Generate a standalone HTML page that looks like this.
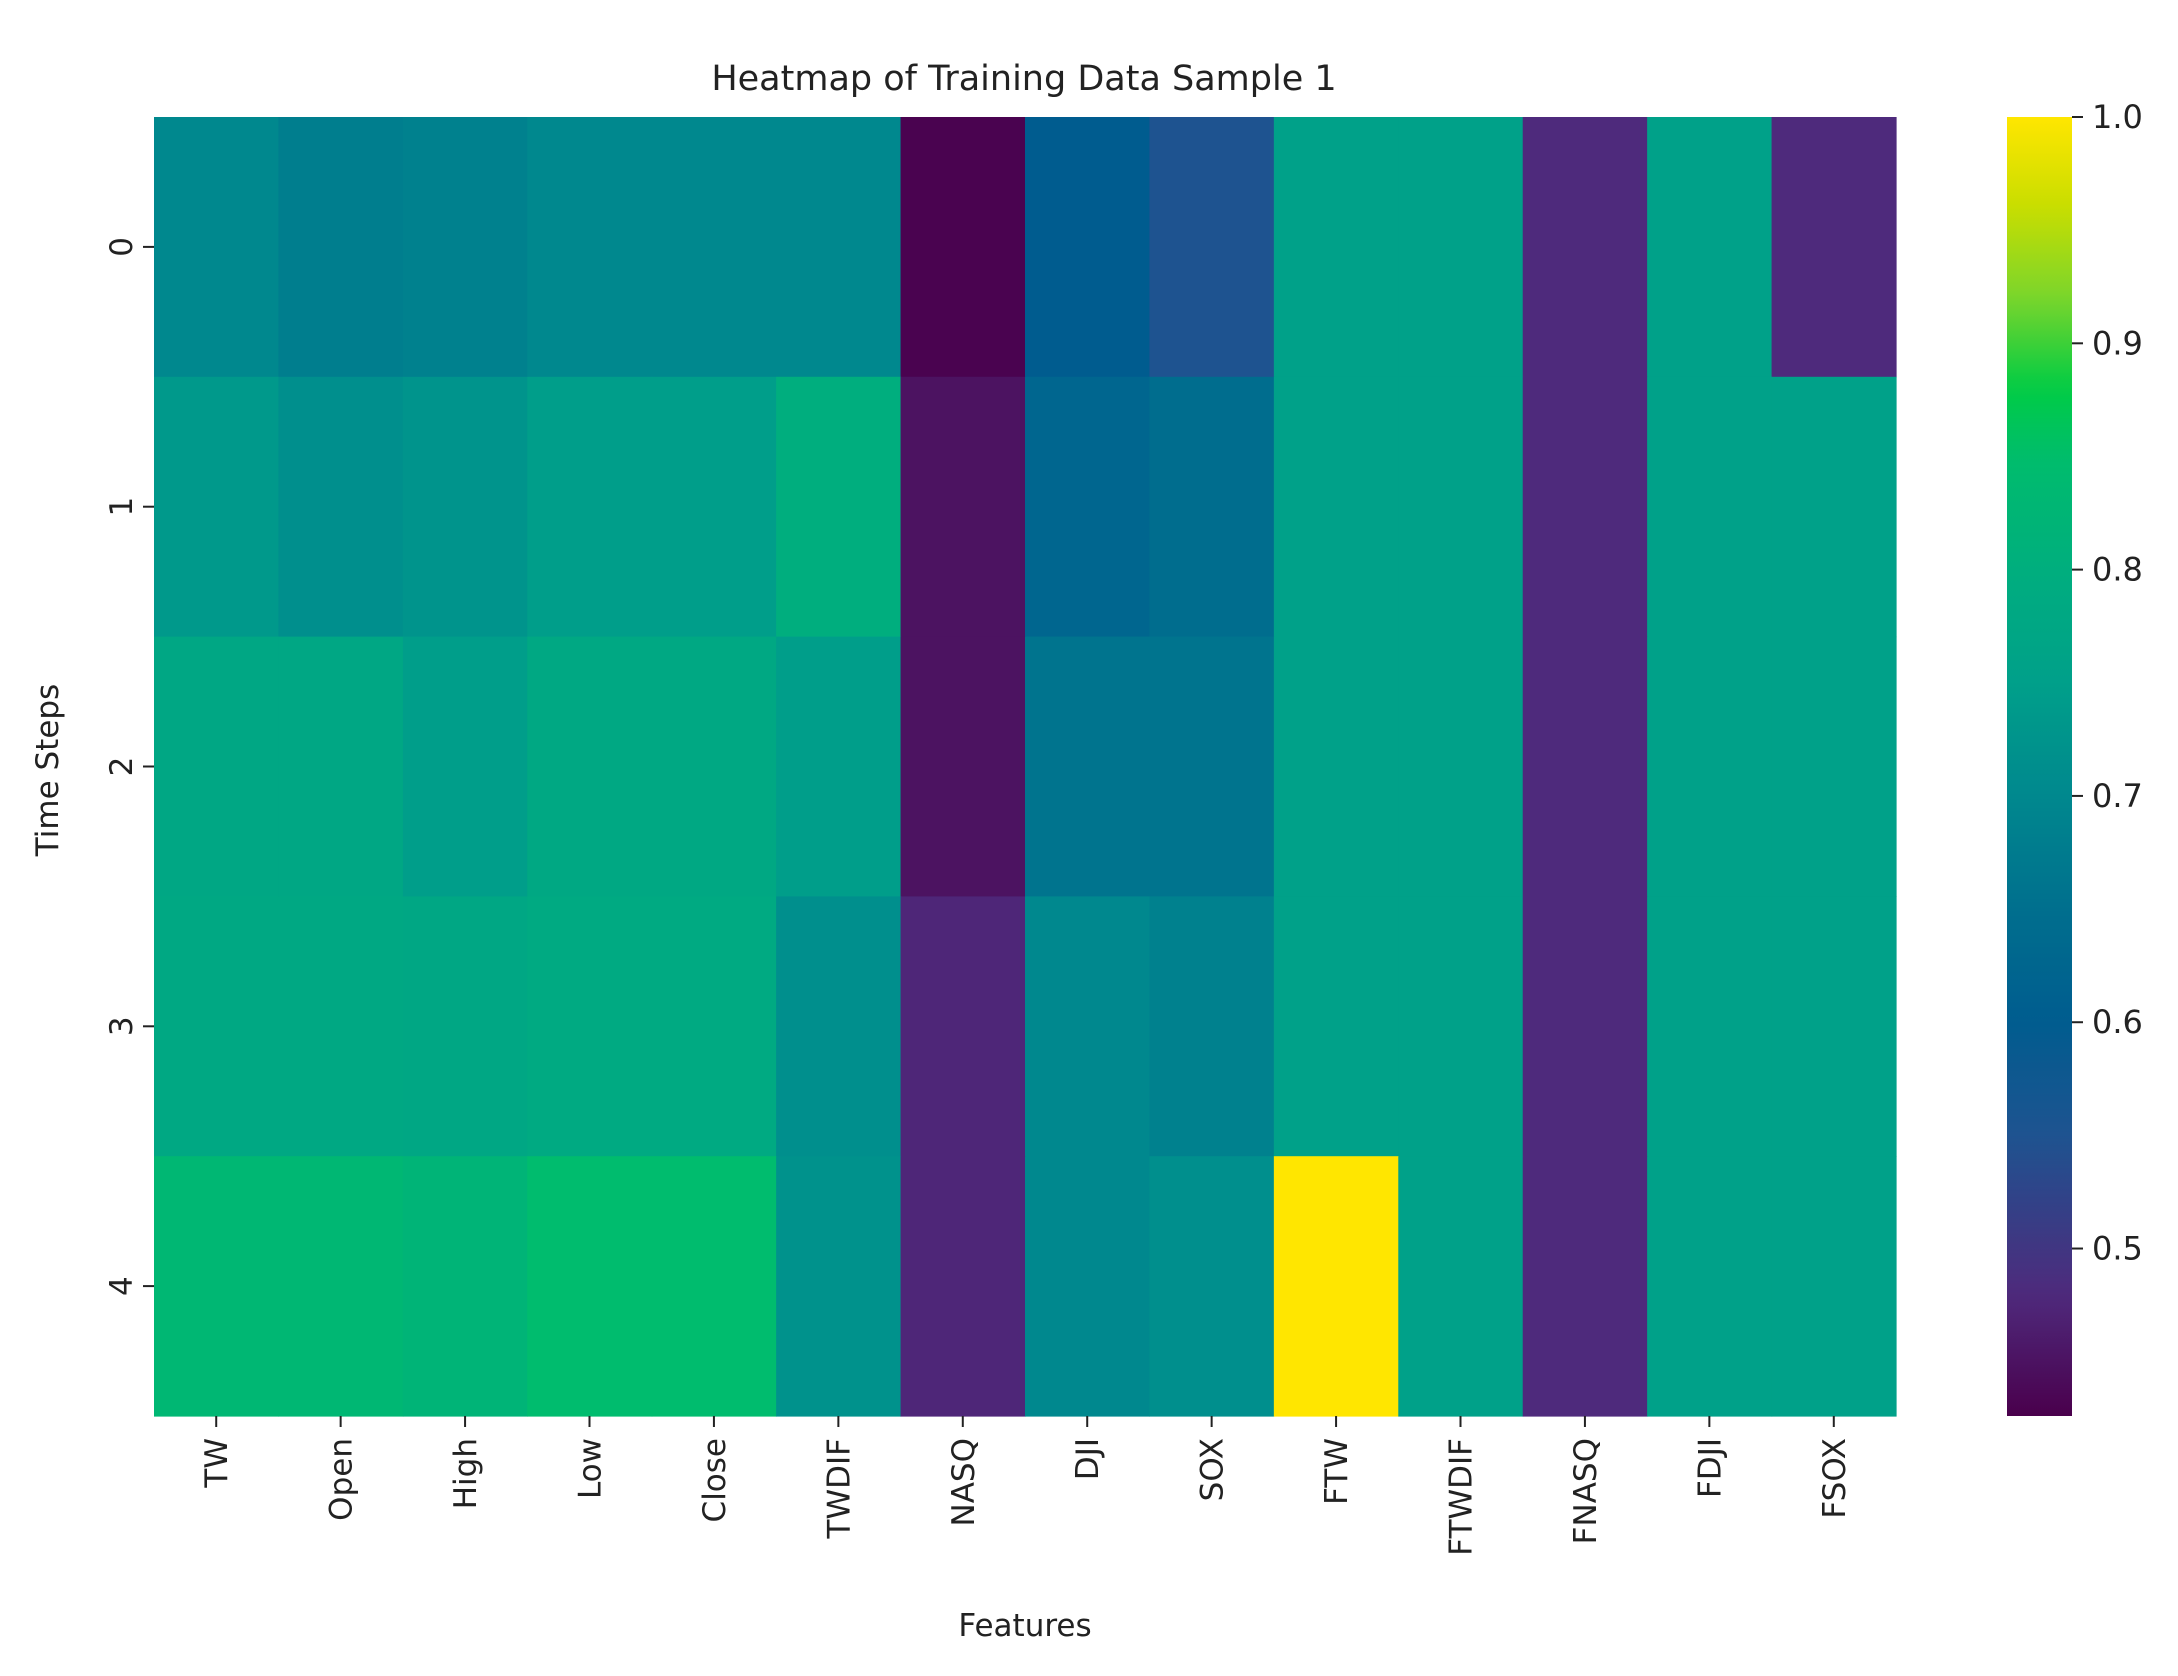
<!DOCTYPE html>
<html><head><meta charset="utf-8"><style>
body{margin:0;background:#fff}
svg text{font-family:"DejaVu Sans","Liberation Sans",sans-serif;fill:#222}
</style></head><body>
<svg id="chart" width="2178" height="1671" viewBox="0 0 2178 1671" xmlns="http://www.w3.org/2000/svg">
<defs><linearGradient id="cbg" x1="0" y1="1" x2="0" y2="0"></linearGradient></defs>
<text x="1024" y="90" font-size="35" text-anchor="middle">Heatmap of Training Data Sample 1</text>
<g id="cells"></g>
<g id="axes"></g>
<text x="1025" y="1636" font-size="31" text-anchor="middle">Features</text>
<text transform="translate(58,770) rotate(-90)" font-size="31" text-anchor="middle">Time Steps</text>
<rect x="2007" y="117" width="65" height="1299" fill="url(#cbg)"/>
<g id="cbax"></g>
</svg>
<script>
const features = ["TW","Open","High","Low","Close","TWDIF","NASQ","DJI","SOX","FTW","FTWDIF","FNASQ","FDJI","FSOX"];
const timeSteps = ["0","1","2","3","4"];
const row0 = [0.70,0.68,0.685,0.70,0.70,0.70,0.43,0.60,0.55,0.755,0.755,0.48,0.755,0.48];
const row1 = [0.735,0.715,0.725,0.745,0.745,0.80,0.45,0.625,0.645,0.755,0.755,0.48,0.755,0.755];
const row2 = [0.775,0.775,0.745,0.78,0.78,0.745,0.45,0.66,0.66,0.755,0.755,0.48,0.755,0.755];
const row3 = [0.78,0.78,0.775,0.785,0.785,0.715,0.475,0.70,0.685,0.755,0.755,0.48,0.755,0.755];
const row4 = [0.83,0.83,0.82,0.845,0.845,0.72,0.475,0.70,0.715,1.0,0.755,0.48,0.755,0.755];
const colorbarTicks = [0.5,0.6,0.7,0.8,0.9,1.0];
const vmin = 0.426, vmax = 1.0;

const rows=[row0,row1,row2,row3,row4];
const NS="http://www.w3.org/2000/svg";
const L=154,R=1896,T=117,B=1416;
const cw=(R-L)/features.length, ch=(B-T)/timeSteps.length;
const xPos=i=>L+i*cw, yPos=j=>T+j*ch;
const cbY=v=>1416-(v-vmin)/(vmax-vmin)*(1416-117);
const cmapV=[0.426,0.48,0.55,0.6,0.65,0.7,0.75,0.8,0.85,0.88,0.92,0.96,1.0];
const cmapC=["#4a004c","#4e2a7c","#1e5390","#005c8f","#006f8e","#00888e","#00a08a","#00ae7e","#00bd6c","#00cc44","#7ad52c","#c8de00","#ffe600"];
function hex(h){return [1,3,5].map(k=>parseInt(h.substr(k,2),16));}
function color(v){v=Math.max(vmin,Math.min(vmax,v));let i=0;while(i<cmapV.length-2&&v>cmapV[i+1])i++;const f=(v-cmapV[i])/(cmapV[i+1]-cmapV[i]);const a=hex(cmapC[i]),b=hex(cmapC[i+1]);return "rgb("+a.map((x,k)=>Math.round(x+(b[k]-x)*f)).join(",")+")";}
function mk(tag,attrs,parent){const e=document.createElementNS(NS,tag);for(const k in attrs)e.setAttribute(k,attrs[k]);parent.appendChild(e);return e;}
const cells=document.getElementById('cells');
rows.forEach((r,j)=>r.forEach((v,i)=>{
 const c=mk('rect',{x:xPos(i),y:yPos(j),width:cw+0.6,height:ch+0.6,fill:color(v)},cells);
 
 
}));
const ax=document.getElementById('axes');
features.forEach((f,i)=>{
 const x=xPos(i)+cw/2;
 mk('line',{x1:x,y1:B,x2:x,y2:B+11,stroke:'#222','stroke-width':2},ax);
 const t=mk('text',{transform:`translate(${x+11},${B+22}) rotate(-90)`,'font-size':31,'text-anchor':'end'},ax);
 t.textContent=f;
 
 
});
timeSteps.forEach((s,j)=>{
 const y=yPos(j)+ch/2;
 mk('line',{x1:L-11,y1:y,x2:L,y2:y,stroke:'#222','stroke-width':2},ax);
 const t=mk('text',{transform:`translate(${L-22},${y}) rotate(-90)`,'font-size':31,'text-anchor':'middle'},ax);
 t.textContent=s;
 
 
});
const g=document.getElementById('cbg');
for(let k=0;k<=60;k++){const v=vmin+(vmax-vmin)*k/60;mk('stop',{offset:(k/60),'stop-color':color(v)},g);}
const cb=document.getElementById('cbax');
colorbarTicks.forEach(v=>{
 const y=cbY(v);
 mk('line',{x1:2072,y1:y,x2:2083,y2:y,stroke:'#222','stroke-width':2},cb);
 const t=mk('text',{x:2092,y:y+11,'font-size':32},cb);
 t.textContent=v.toFixed(1);
 
 
});
</script>
</body></html>
